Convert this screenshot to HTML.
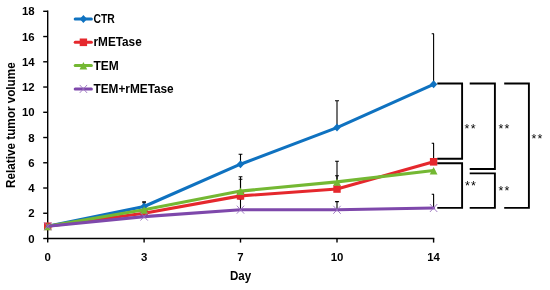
<!DOCTYPE html>
<html lang="en"><head><meta charset="utf-8"><title>Relative tumor volume</title>
<style>
html,body{margin:0;padding:0;background:#fff;}
body{width:550px;height:290px;overflow:hidden;}
svg{display:block;}
text{font-family:"Liberation Sans",Arial,Helvetica,sans-serif;font-weight:bold;fill:#000;}
.t{font-size:11.5px;}
.l{font-size:11.9px;}
.s{font-size:12.5px;font-weight:normal;}
</style></head><body>
<svg width="550" height="290" viewBox="0 0 550 290">
<rect width="550" height="290" fill="#fff"/>
<g stroke="#000" stroke-width="1.4" fill="none">
<path d="M47.7,10.600000000000001 V239.2"/>
<path d="M47.0,238.5 H434.3"/>
<path d="M43.2,238.50 H47.7"/>
<path d="M43.2,213.26 H47.7"/>
<path d="M43.2,188.01 H47.7"/>
<path d="M43.2,162.77 H47.7"/>
<path d="M43.2,137.52 H47.7"/>
<path d="M43.2,112.28 H47.7"/>
<path d="M43.2,87.03 H47.7"/>
<path d="M43.2,61.79 H47.7"/>
<path d="M43.2,36.54 H47.7"/>
<path d="M43.2,11.30 H47.7"/>
<path d="M47.7,238.5 V242.6"/>
<path d="M144.1,238.5 V242.6"/>
<path d="M240.5,238.5 V242.6"/>
<path d="M337.0,238.5 V242.6"/>
<path d="M433.6,238.5 V242.6"/>
</g>
<text class="t" x="28.35" y="242.50" textLength="6.35" lengthAdjust="spacingAndGlyphs">0</text>
<text class="t" x="28.35" y="217.26" textLength="6.35" lengthAdjust="spacingAndGlyphs">2</text>
<text class="t" x="28.35" y="192.01" textLength="6.35" lengthAdjust="spacingAndGlyphs">4</text>
<text class="t" x="28.35" y="166.77" textLength="6.35" lengthAdjust="spacingAndGlyphs">6</text>
<text class="t" x="28.35" y="141.52" textLength="6.35" lengthAdjust="spacingAndGlyphs">8</text>
<text class="t" x="22.00" y="116.28" textLength="12.70" lengthAdjust="spacingAndGlyphs">10</text>
<text class="t" x="22.00" y="91.03" textLength="12.70" lengthAdjust="spacingAndGlyphs">12</text>
<text class="t" x="22.00" y="65.79" textLength="12.70" lengthAdjust="spacingAndGlyphs">14</text>
<text class="t" x="22.00" y="40.54" textLength="12.70" lengthAdjust="spacingAndGlyphs">16</text>
<text class="t" x="22.00" y="15.30" textLength="12.70" lengthAdjust="spacingAndGlyphs">18</text>
<text class="t" x="44.53" y="260.8" textLength="6.35" lengthAdjust="spacingAndGlyphs">0</text>
<text class="t" x="140.92" y="260.8" textLength="6.35" lengthAdjust="spacingAndGlyphs">3</text>
<text class="t" x="237.32" y="260.8" textLength="6.35" lengthAdjust="spacingAndGlyphs">7</text>
<text class="t" x="330.65" y="260.8" textLength="12.70" lengthAdjust="spacingAndGlyphs">10</text>
<text class="t" x="427.25" y="260.8" textLength="12.70" lengthAdjust="spacingAndGlyphs">14</text>
<text class="l" x="229.9" y="279.6" textLength="21.2" lengthAdjust="spacingAndGlyphs">Day</text>
<text class="l" transform="translate(14.5,187.9) rotate(-90)" x="0" y="0" textLength="125.6" lengthAdjust="spacingAndGlyphs">Relative tumor volume</text>
<g stroke="#000" stroke-width="1.1" fill="none">
<path d="M144.1,206.5 V201.8 M142.2,201.8 H146.0"/>
<path d="M144.1,206.5 V202.8 M142.2,202.8 H146.0"/>
<path d="M240.5,164.2 V154.2 M238.6,154.2 H242.4"/>
<path d="M240.5,191 V176.7 M238.6,176.7 H242.4"/>
<path d="M240.5,196 V179.2 M238.6,179.2 H242.4"/>
<path d="M240.5,209.6 V199 M238.6,199 H242.4"/>
<path d="M337.0,127.6 V100.8 M335.0,100.8 H339.0"/>
<path d="M337.0,182 V161.2 M335.1,161.2 H338.9"/>
<path d="M337.0,189.8 V175.7 M335.1,175.7 H338.9"/>
<path d="M337.0,209.6 V201.6 M335.1,201.6 H338.9"/>
<path d="M433.6,84.3 V33.8 M431.70000000000005,33.8 H434.0"/>
<path d="M433.6,161.8 V143.2 M431.70000000000005,143.2 H434.0"/>
<path d="M433.6,208.0 V194.3 M431.70000000000005,194.3 H434.0"/>
</g>
<polyline points="47.7,226.3 144.1,206.5 240.5,164.2 337.0,127.6 433.6,84.3" fill="none" stroke="#0f72c0" stroke-width="3.1" stroke-linejoin="round" stroke-linecap="round"/>
<path d="M44.0,226.3 L47.7,222.3 L51.400000000000006,226.3 L47.7,230.3 Z" fill="#0f72c0"/>
<path d="M140.4,206.5 L144.1,202.5 L147.79999999999998,206.5 L144.1,210.5 Z" fill="#0f72c0"/>
<path d="M236.8,164.2 L240.5,160.2 L244.2,164.2 L240.5,168.2 Z" fill="#0f72c0"/>
<path d="M333.3,127.6 L337.0,123.6 L340.7,127.6 L337.0,131.6 Z" fill="#0f72c0"/>
<path d="M429.90000000000003,84.3 L433.6,80.3 L437.3,84.3 L433.6,88.3 Z" fill="#0f72c0"/>
<polyline points="47.7,226.3 144.1,213.3 240.5,195.9 337.0,189.0 433.6,161.8" fill="none" stroke="#e5282d" stroke-width="3.1" stroke-linejoin="round" stroke-linecap="round"/>
<rect x="44.0" y="222.5" width="7.4" height="7.6" fill="#e5282d"/>
<rect x="140.4" y="209.5" width="7.4" height="7.6" fill="#e5282d"/>
<rect x="236.8" y="192.1" width="7.4" height="7.6" fill="#e5282d"/>
<rect x="333.3" y="185.2" width="7.4" height="7.6" fill="#e5282d"/>
<rect x="429.9" y="158.0" width="7.4" height="7.6" fill="#e5282d"/>
<polyline points="47.7,226.3 144.1,209.8 240.5,191.1 337.0,181.9 433.6,170.5" fill="none" stroke="#74b833" stroke-width="3.1" stroke-linejoin="round" stroke-linecap="round"/>
<path d="M47.7,222.8 L51.6,230.20000000000002 L43.800000000000004,230.20000000000002 Z" fill="#74b833"/>
<path d="M144.1,206.3 L148.0,213.70000000000002 L140.2,213.70000000000002 Z" fill="#74b833"/>
<path d="M240.5,187.6 L244.4,195.0 L236.6,195.0 Z" fill="#74b833"/>
<path d="M337.0,178.4 L340.9,185.8 L333.1,185.8 Z" fill="#74b833"/>
<path d="M433.6,167.0 L437.5,174.4 L429.70000000000005,174.4 Z" fill="#74b833"/>
<polyline points="47.7,226.3 144.1,216.6 240.5,209.7 337.0,209.8 433.6,208.0" fill="none" stroke="#7e48ab" stroke-width="3.1" stroke-linejoin="round" stroke-linecap="round"/>
<path d="M44.0,222.3 L51.400000000000006,230.3 M51.400000000000006,222.3 L44.0,230.3" stroke="#9a72c0" stroke-width="0.9" fill="none"/>
<path d="M140.4,212.6 L147.79999999999998,220.6 M147.79999999999998,212.6 L140.4,220.6" stroke="#9a72c0" stroke-width="0.9" fill="none"/>
<path d="M236.8,205.7 L244.2,213.7 M244.2,205.7 L236.8,213.7" stroke="#9a72c0" stroke-width="0.9" fill="none"/>
<path d="M333.3,205.8 L340.7,213.8 M340.7,205.8 L333.3,213.8" stroke="#9a72c0" stroke-width="0.9" fill="none"/>
<path d="M429.90000000000003,204.0 L437.3,212.0 M437.3,204.0 L429.90000000000003,212.0" stroke="#9a72c0" stroke-width="0.9" fill="none"/>
<g stroke="#000" stroke-width="1.9" fill="none" stroke-linejoin="miter">
<path d="M437.3,83.5 H462.1 V158.8 H437.3"/>
<path d="M437.3,163.2 H462.1 V207.9 H437.3"/>
<path d="M469.7,83.5 H494.9 V169.0 H469.7"/>
<path d="M469.7,173.4 H494.9 V207.9 H469.7"/>
<path d="M504.2,83.5 H528.9 V207.9 H504.2"/>
</g>
<text class="s" x="464.6" y="133.0" textLength="11.0" lengthAdjust="spacing">**</text>
<text class="s" x="464.90000000000003" y="190.3" textLength="11.0" lengthAdjust="spacing">**</text>
<text class="s" x="498.40000000000003" y="133.0" textLength="11.0" lengthAdjust="spacing">**</text>
<text class="s" x="498.40000000000003" y="194.8" textLength="11.0" lengthAdjust="spacing">**</text>
<text class="s" x="531.4" y="143.1" textLength="11.0" lengthAdjust="spacing">**</text>
<path d="M75.2,18.9 H91.4" stroke="#0f72c0" stroke-width="3" stroke-linecap="round" fill="none"/>
<path d="M79.7,18.9 L83.4,14.899999999999999 L87.10000000000001,18.9 L83.4,22.9 Z" fill="#0f72c0"/>
<text class="l" x="93.5" y="22.9" textLength="21.3" lengthAdjust="spacingAndGlyphs">CTR</text>
<path d="M75.2,42.3 H91.4" stroke="#e5282d" stroke-width="3" stroke-linecap="round" fill="none"/>
<rect x="79.7" y="38.5" width="7.4" height="7.6" fill="#e5282d"/>
<text class="l" x="93.5" y="46.3" textLength="48.2" lengthAdjust="spacingAndGlyphs">rMETase</text>
<path d="M75.2,65.6 H91.4" stroke="#74b833" stroke-width="3" stroke-linecap="round" fill="none"/>
<path d="M83.4,62.099999999999994 L87.30000000000001,69.5 L79.5,69.5 Z" fill="#74b833"/>
<text class="l" x="93.5" y="69.6" textLength="25.3" lengthAdjust="spacingAndGlyphs">TEM</text>
<path d="M75.2,88.95 H91.4" stroke="#7e48ab" stroke-width="3" stroke-linecap="round" fill="none"/>
<path d="M79.7,84.95 L87.10000000000001,92.95 M87.10000000000001,84.95 L79.7,92.95" stroke="#9a72c0" stroke-width="0.9" fill="none"/>
<text class="l" x="93.5" y="93.0" textLength="80.2" lengthAdjust="spacingAndGlyphs">TEM+rMETase</text>
</svg></body></html>
